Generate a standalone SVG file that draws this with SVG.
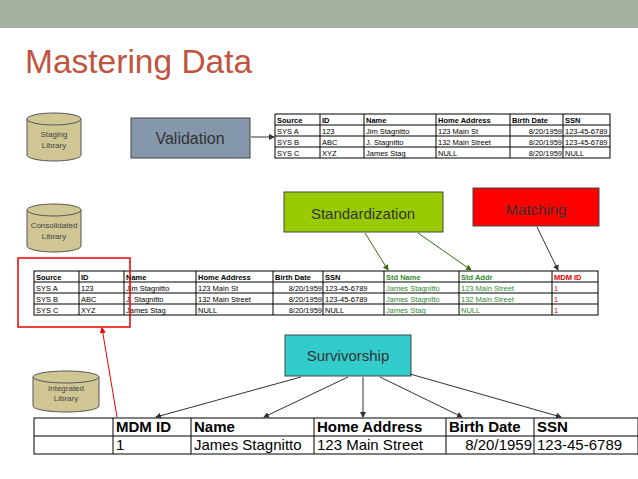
<svg xmlns="http://www.w3.org/2000/svg" width="638" height="479" viewBox="0 0 638 479">
<defs>
<marker id="ah" markerWidth="6" markerHeight="6" refX="5" refY="3" orient="auto"><path d="M0,0 L6,3 L0,6 z" fill="#333"/></marker>
<marker id="ahg" markerWidth="6" markerHeight="6" refX="5" refY="3" orient="auto"><path d="M0,0 L6,3 L0,6 z" fill="#3a6a10"/></marker>
<marker id="ahr" markerWidth="6" markerHeight="6" refX="5" refY="3" orient="auto"><path d="M0,0 L6,3 L0,6 z" fill="#e00"/></marker>
</defs>
<style>
text{font-family:"Liberation Sans",Arial,sans-serif}
.t{font-size:7.5px;fill:#000}
.tb{font-size:7.5px;font-weight:bold}
.g{fill:#2e8b2e}
.r{fill:#e00000}
.grid{stroke:#000;stroke-width:1;fill:none}
.cyl{fill:#cfc694;stroke:#555;stroke-width:1}
.cl{font-size:8px;fill:#444;text-anchor:middle}
.bt{font-size:15px}
.bb{font-size:15px;font-weight:bold}
.lab{text-anchor:middle;fill:#333}
</style>
<rect width="638" height="479" fill="#fff"/>
<rect x="0" y="0" width="638" height="28" fill="#a5b09e"/>
<text x="25" y="73" font-size="33.5" fill="#c0543e">Mastering Data</text>

<g id="staging">
<path class="cyl" d="M27,119 v36 a27,6 0 0 0 54,0 v-36"/>
<ellipse class="cyl" cx="54" cy="119" rx="27" ry="6"/>
<text class="cl" x="54" y="137">Staging</text><text class="cl" x="54" y="148">Library</text>
</g>
<g id="consolidated">
<path class="cyl" d="M27,210 v36 a27,6 0 0 0 54,0 v-36"/>
<ellipse class="cyl" cx="54" cy="210" rx="27" ry="6"/>
<text class="cl" x="54" y="228">Consolidated</text><text class="cl" x="54" y="239">Library</text>
</g>
<g id="integrated">
<path class="cyl" d="M33,377 v29 a33,6 0 0 0 66,0 v-29"/>
<ellipse class="cyl" cx="66" cy="377" rx="33" ry="6"/>
<text class="cl" x="66" y="391">Integrated</text><text class="cl" x="66" y="401">Library</text>
</g>

<g id="validation">
<rect x="131" y="118" width="119" height="40" fill="#8597aa" stroke="#444"/>
<text x="190" y="144" font-size="16" class="lab">Validation</text>
</g>
<g id="standardization">
<rect x="284" y="192" width="159" height="40" fill="#99cc00" stroke="#444"/>
<text x="363" y="219" font-size="15" class="lab">Standardization</text>
</g>
<g id="matching">
<rect x="473" y="188" width="126" height="38" fill="#ff0000" stroke="#444"/>
<text x="536" y="215" font-size="15" class="lab">Matching</text>
</g>
<g id="survivorship">
<rect x="285" y="335" width="126" height="41" fill="#33cccc" stroke="#444"/>
<text x="348" y="361" font-size="15" class="lab">Survivorship</text>
</g>

<g id="table-top">
<rect x="275" y="114" width="335" height="44" class="grid" stroke-width="1.5"/>
<path class="grid" d="M275,125H610M275,136H610M275,147H610M320,114V158M364,114V158M436,114V158M510,114V158M563,114V158"/>
<g class="t">
<text class="tb" x="277" y="123">Source</text><text class="tb" x="322" y="123">ID</text><text class="tb" x="366" y="123">Name</text><text class="tb" x="438" y="123">Home Address</text><text class="tb" x="512" y="123">Birth Date</text><text class="tb" x="565" y="123">SSN</text>
<text x="277" y="134">SYS A</text><text x="322" y="134">123</text><text x="366" y="134">Jim Stagnitto</text><text x="438" y="134">123 Main St</text><text x="562" y="134" text-anchor="end">8/20/1959</text><text x="565" y="134">123-45-6789</text>
<text x="277" y="145">SYS B</text><text x="322" y="145">ABC</text><text x="366" y="145">J. Stagnitto</text><text x="438" y="145">132 Main Street</text><text x="562" y="145" text-anchor="end">8/20/1959</text><text x="565" y="145">123-45-6789</text>
<text x="277" y="156">SYS C</text><text x="322" y="156">XYZ</text><text x="366" y="156">James Stag</text><text x="438" y="156">NULL</text><text x="562" y="156" text-anchor="end">8/20/1959</text><text x="565" y="156">NULL</text>
</g>
</g>

<g id="table-middle">
<rect x="34" y="271" width="564" height="44" class="grid" stroke-width="1.5"/>
<path class="grid" d="M34,282H598M34,293H598M34,304H598M79,271V315M124,271V315M196,271V315M273,271V315M323,271V315M384,271V315M459,271V315M552,271V315"/>
<g class="t">
<text class="tb" x="36" y="280">Source</text><text class="tb" x="81" y="280">ID</text><text class="tb" x="126" y="280">Name</text><text class="tb" x="198" y="280">Home Address</text><text class="tb" x="275" y="280">Birth Date</text><text class="tb" x="325" y="280">SSN</text><text class="tb g" x="386" y="280">Std Name</text><text class="tb g" x="461" y="280">Std Addr</text><text class="tb r" x="554" y="280">MDM ID</text>
<text x="36" y="291">SYS A</text><text x="81" y="291">123</text><text x="126" y="291">Jim Stagnitto</text><text x="198" y="291">123 Main St</text><text x="322" y="291" text-anchor="end">8/20/1959</text><text x="325" y="291">123-45-6789</text><text class="g" x="386" y="291">James Stagnitto</text><text class="g" x="461" y="291">123 Main Street</text><text class="r" x="554" y="291">1</text>
<text x="36" y="302">SYS B</text><text x="81" y="302">ABC</text><text x="126" y="302">J. Stagnitto</text><text x="198" y="302">132 Main Street</text><text x="322" y="302" text-anchor="end">8/20/1959</text><text x="325" y="302">123-45-6789</text><text class="g" x="386" y="302">James Stagnitto</text><text class="g" x="461" y="302">132 Main Street</text><text class="r" x="554" y="302">1</text>
<text x="36" y="313">SYS C</text><text x="81" y="313">XYZ</text><text x="126" y="313">James Stag</text><text x="198" y="313">NULL</text><text x="322" y="313" text-anchor="end">8/20/1959</text><text x="325" y="313">NULL</text><text class="g" x="386" y="313">James Stag</text><text class="g" x="461" y="313">NULL</text><text class="r" x="554" y="313">1</text>
</g>
</g>

<g id="table-bottom">
<rect x="34" y="418" width="604" height="36" class="grid" stroke-width="2"/>
<path class="grid" stroke-width="1.5" d="M34,436H638M113,418V454M191,418V454M314,418V454M446,418V454M534,418V454"/>
<text class="bb" x="116" y="432">MDM ID</text><text class="bb" x="194" y="432">Name</text><text class="bb" x="317" y="432">Home Address</text><text class="bb" x="449" y="432">Birth Date</text><text class="bb" x="537" y="432">SSN</text>
<text class="bt" x="116" y="450">1</text><text class="bt" x="194" y="450">James Stagnitto</text><text class="bt" x="317" y="450">123 Main Street</text><text class="bt" x="532" y="450" text-anchor="end">8/20/1959</text><text class="bt" x="537" y="450">123-45-6789</text>
</g>

<rect id="highlight" x="18" y="258" width="112" height="69" fill="none" stroke="#e00" stroke-width="1.5"/>

<g id="connectors" fill="none">
<line x1="251" y1="137" x2="274" y2="137" stroke="#333" marker-end="url(#ah)"/>
<line x1="365" y1="233" x2="388" y2="270" stroke="#3a6a10" marker-end="url(#ahg)"/>
<line x1="418" y1="233" x2="471" y2="270" stroke="#3a6a10" marker-end="url(#ahg)"/>
<line x1="537" y1="227" x2="558" y2="270" stroke="#333" marker-end="url(#ah)"/>
<line x1="301" y1="377" x2="156" y2="417" stroke="#333" marker-end="url(#ah)"/>
<line x1="348" y1="377" x2="264" y2="417" stroke="#333" marker-end="url(#ah)"/>
<line x1="363" y1="377" x2="363" y2="417" stroke="#333" marker-end="url(#ah)"/>
<line x1="380" y1="377" x2="462" y2="417" stroke="#333" marker-end="url(#ah)"/>
<line x1="410" y1="374" x2="561" y2="417" stroke="#333" marker-end="url(#ah)"/>
<line x1="117" y1="417" x2="102" y2="328" stroke="#e00" marker-end="url(#ahr)"/>
</g>
</svg>
